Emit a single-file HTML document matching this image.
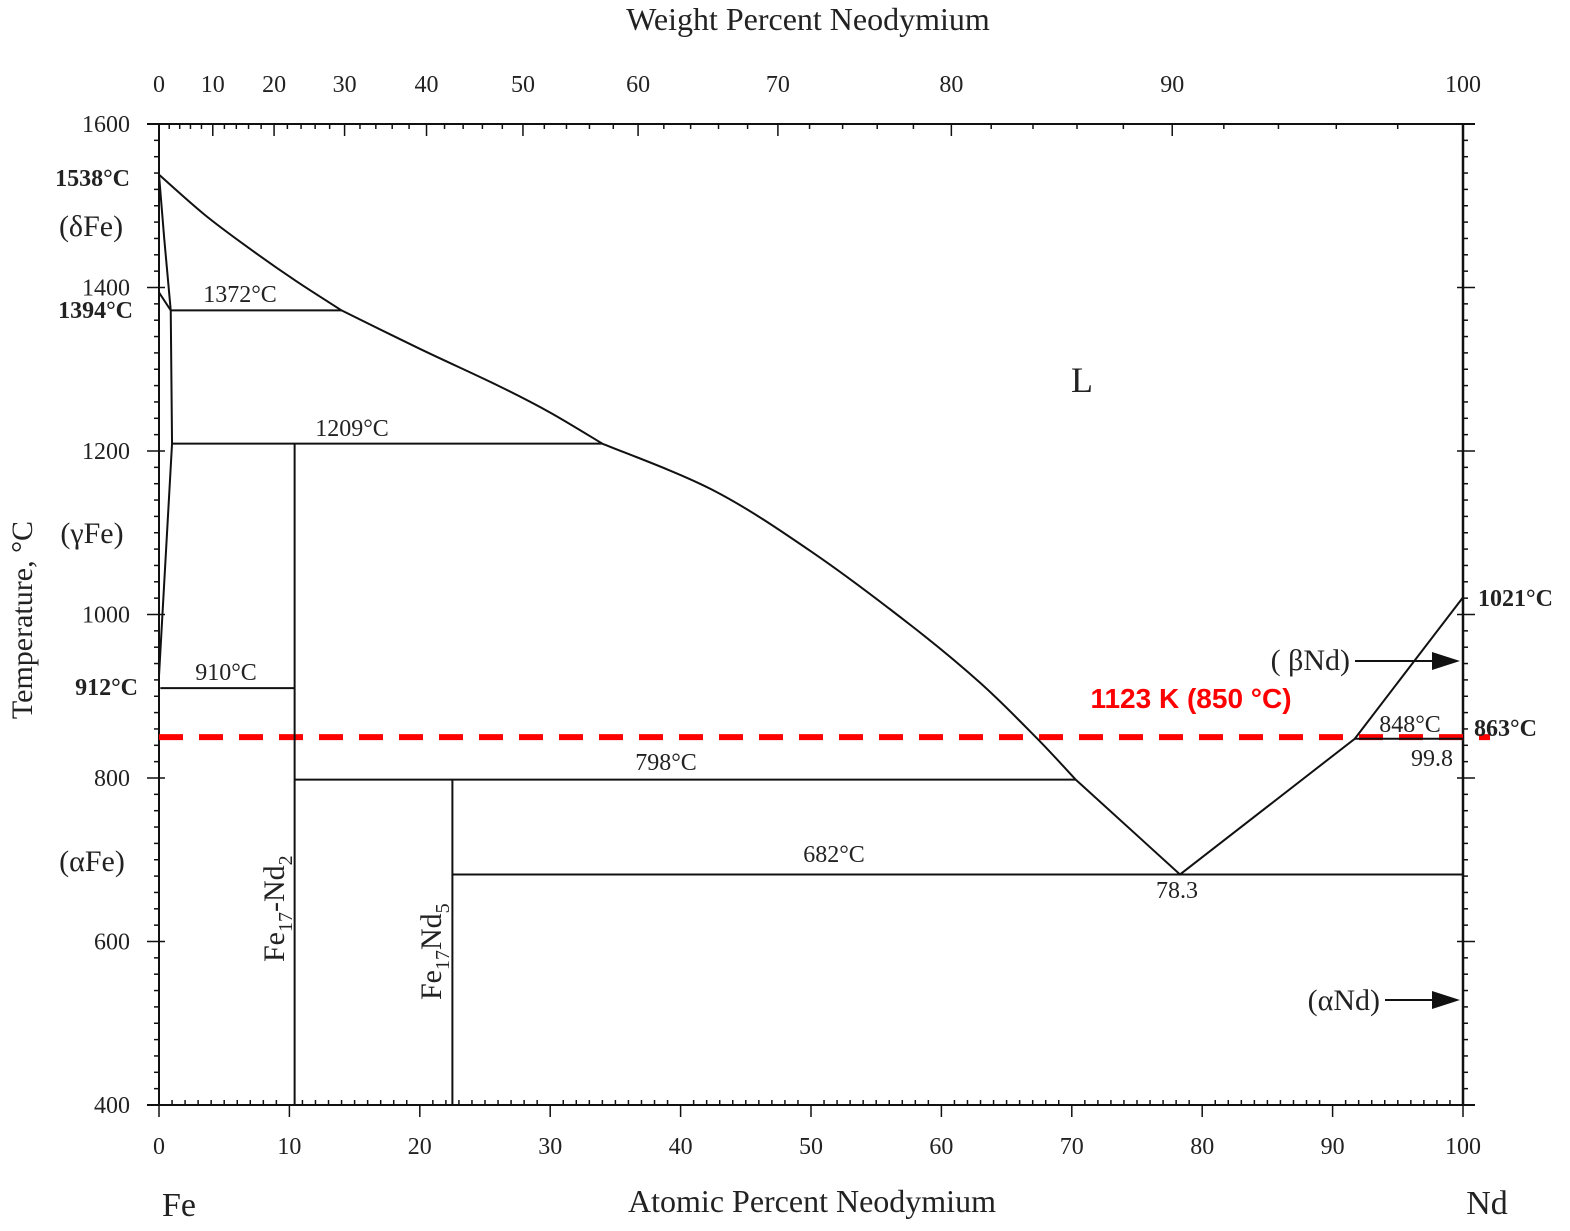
<!DOCTYPE html>
<html><head><meta charset="utf-8"><style>
html,body{margin:0;padding:0;background:#fff;}
svg{display:block;font-family:"Liberation Serif",serif;}
</style></head><body>
<svg id="chart" width="1570" height="1231" viewBox="0 0 1570 1231" xmlns="http://www.w3.org/2000/svg">
<g id="axes"></g>
<g id="lines" fill="none" stroke="#111" stroke-width="2"></g>
<g id="labels" fill="#222" font-size="24"></g>
<g fill="#222" font-size="24" font-family="Liberation Serif, serif">
<text x="808" y="30" font-size="32" text-anchor="middle">Weight Percent Neodymium</text>
<text x="812" y="1212" font-size="32" text-anchor="middle">Atomic Percent Neodymium</text>
<text x="179" y="1216" font-size="34" text-anchor="middle">Fe</text>
<text x="1487" y="1214" font-size="34" text-anchor="middle">Nd</text>
<text transform="translate(32,620) rotate(-90)" font-size="30" text-anchor="middle">Temperature, °C</text>
<text x="130" y="186" font-weight="bold" text-anchor="end">1538°C</text>
<text x="133" y="318" font-weight="bold" text-anchor="end">1394°C</text>
<text x="138" y="695" font-weight="bold" text-anchor="end">912°C</text>
<text x="1478" y="606" font-weight="bold">1021°C</text>
<text x="1474" y="736" font-weight="bold">863°C</text>
<text x="91" y="236" font-size="30" text-anchor="middle">(δFe)</text>
<text x="92" y="543" font-size="30" text-anchor="middle">(γFe)</text>
<text x="92" y="871" font-size="30" text-anchor="middle">(αFe)</text>
<text x="1082" y="392" font-size="36" text-anchor="middle">L</text>
<text x="240" y="302" text-anchor="middle">1372°C</text>
<text x="352" y="436" text-anchor="middle">1209°C</text>
<text x="226" y="680" text-anchor="middle">910°C</text>
<text x="666" y="770" text-anchor="middle">798°C</text>
<text x="834" y="862" text-anchor="middle">682°C</text>
<text x="1177" y="898" text-anchor="middle">78.3</text>
<text x="1410" y="732" text-anchor="middle">848°C</text>
<text x="1432" y="766" text-anchor="middle">99.8</text>
<text transform="translate(284,962) rotate(-90)" font-size="30">Fe<tspan font-size="20" dy="8">17</tspan><tspan dy="-8">-Nd</tspan><tspan font-size="20" dy="8">2</tspan></text>
<text transform="translate(441,1000) rotate(-90)" font-size="30">Fe<tspan font-size="20" dy="8">17</tspan><tspan dy="-8">Nd</tspan><tspan font-size="20" dy="8">5</tspan></text>
<text x="1350" y="670" font-size="30" text-anchor="end">( βNd)</text>
<text x="1380" y="1010" font-size="30" text-anchor="end">(αNd)</text>
<text x="1191" y="708" font-size="28" font-weight="bold" fill="#f00" font-family="Liberation Sans, sans-serif" text-anchor="middle">1123 K (850 °C)</text>
<g><line x1="1355" y1="661" x2="1435" y2="661" stroke="#111" stroke-width="2"/><polygon points="1460,661 1432,652 1432,670" fill="#111"/></g>
<g><line x1="1385" y1="1000" x2="1435" y2="1000" stroke="#111" stroke-width="2"/><polygon points="1460,1000 1432,991 1432,1009" fill="#111"/></g>
</g>
</svg>
<script>
const xTicksAt = [0,10,20,30,40,50,60,70,80,90,100];
const xTicksWt = [0,10,20,30,40,50,60,70,80,90,100];
const yTicks = [400,600,800,1000,1200,1400,1600];
// liquidus segments (at%, °C)
const liqAAt = [0,3.5,7,10.5,14];
const liqAT = [1538,1489,1447,1408,1372];
const liqBAt = [14,20,26,30,34];
const liqBT = [1372,1325,1280,1247,1209];
const liqCAt = [34,42.5,50.2,57.8,63,67.3,70.3];
const liqCT = [1209,1152,1075,985,916,849,798];
const nd1At = [70.3,78.3,91.7,100];
const nd1T = [798,682,848,1021];
const deltaAt = [0,0.4,0.9]; const deltaT=[1538,1460,1372];
const gammaAt = [0.9,1,0]; const gammaT=[1372,1209,925];
const isoLevels = [1372,1209,910,798,682,848];
const isoFrom = [0.9,1,0.1,10.4,22.5,91.7];
const isoTo = [14,34,10.4,70.3,100,100];
const compAt = [10.4,22.5]; const compTop=[1209,798];
const redT = 850;

const X0=159,X1=1463,Y0=124,Y1=1105,TMIN=400,TMAX=1600;
const sx=a=>X0+a/100*(X1-X0);
const sy=t=>Y0+(TMAX-t)/(TMAX-TMIN)*(Y1-Y0);
const wtToAt=w=>{const a=w/144.24,b=(100-w)/55.845;return w>=100?100:100*a/(a+b);};
const NS="http://www.w3.org/2000/svg";
function mk(tag,parent,attrs,text){const e=document.createElementNS(NS,tag);for(const k in attrs)e.setAttribute(k,attrs[k]);if(text!==undefined)e.textContent=text;parent.appendChild(e);return e;}
const ax=document.getElementById('axes'),ln=document.getElementById('lines'),lb=document.getElementById('labels');
let e=mk('line',ax,{x1:X0,y1:Y0,x2:X0,y2:Y1,stroke:'#111','stroke-width':2});


e=mk('line',ax,{x1:X1,y1:Y0,x2:X1,y2:Y1,stroke:'#111','stroke-width':2.5});


e=mk('line',ax,{x1:X0-12,y1:Y1,x2:X1+12,y2:Y1,stroke:'#111','stroke-width':2});


e=mk('line',ax,{x1:X0-12,y1:Y0,x2:X1+12,y2:Y0,stroke:'#111','stroke-width':2});


for(let a=1;a<100;a++){if(a%10===0)continue;mk('line',ax,{x1:sx(a),y1:Y1,x2:sx(a),y2:Y1-5,stroke:'#111','stroke-width':1.5});}
for(let w=2;w<100;w+=2){if(w%10===0)continue;const x=sx(wtToAt(w));mk('line',ax,{x1:x,y1:Y0,x2:x,y2:Y0+5,stroke:'#111','stroke-width':1.5});}
for(let t=420;t<1600;t+=20){if(t%200===0)continue;mk('line',ax,{x1:X0,y1:sy(t),x2:X0-5,y2:sy(t),stroke:'#111','stroke-width':1.5});mk('line',ax,{x1:X1,y1:sy(t),x2:X1+5,y2:sy(t),stroke:'#111','stroke-width':1.5});}
xTicksAt.forEach(a=>{mk('line',ax,{x1:sx(a),y1:Y1,x2:sx(a),y2:Y1+12,stroke:'#111','stroke-width':1.5});
 const t=mk('text',lb,{x:sx(a),y:1154,'text-anchor':'middle'},a);
});
xTicksWt.forEach(w=>{const x=sx(wtToAt(w));mk('line',ax,{x1:x,y1:Y0,x2:x,y2:Y0+12,stroke:'#111','stroke-width':1.5});
 const t=mk('text',lb,{x:x,y:92,'text-anchor':'middle'},w);
});
yTicks.forEach(v=>{mk('line',ax,{x1:X0-12,y1:sy(v),x2:X0+6,y2:sy(v),stroke:'#111','stroke-width':1.5});mk('line',ax,{x1:X1-6,y1:sy(v),x2:X1+12,y2:sy(v),stroke:'#111','stroke-width':1.5});
 const t=mk('text',lb,{x:130,y:sy(v)+8,'text-anchor':'end'},v);
});
function poly(A,T,name){const p=mk('polyline',ln,{points:A.map((a,i)=>sx(a)+','+sy(T[i])).join(' ')});
}
function smooth(A,T,name){let d='M'+sx(A[0])+','+sy(T[0]);const P=A.map((a,i)=>[sx(a),sy(T[i])]);
 for(let i=0;i<P.length-1;i++){const p0=P[Math.max(0,i-1)],p1=P[i],p2=P[i+1],p3=P[Math.min(P.length-1,i+2)];
 d+=` C${p1[0]+(p2[0]-p0[0])/6},${p1[1]+(p2[1]-p0[1])/6} ${p2[0]-(p3[0]-p1[0])/6},${p2[1]-(p3[1]-p1[1])/6} ${p2[0]},${p2[1]}`;}
 const p=mk('path',ln,{d:d});
}
smooth(liqAAt,liqAT,'liquidus-delta');
smooth(liqBAt,liqBT,'liquidus-gamma');
smooth(liqCAt,liqCT,'liquidus-fe17nd2');
poly(nd1At,nd1T,'liquidus-nd-side');
poly(deltaAt,deltaT,'delta-fe-solvus');
poly([0,0.9],[1394,1372],'delta-gamma-boundary');
poly(gammaAt,gammaT,'gamma-fe-solvus');
isoLevels.forEach((t,i)=>{const l=mk('line',ln,{x1:sx(isoFrom[i]),y1:sy(t),x2:sx(isoTo[i]),y2:sy(t)});
});
compAt.forEach((a,i)=>{const l=mk('line',ln,{x1:sx(a),y1:sy(compTop[i]),x2:sx(a),y2:Y1});
});
const rl=mk('line',ax,{x1:X0,y1:sy(redT),x2:1490,y2:sy(redT),stroke:'#f00','stroke-width':6,'stroke-dasharray':'24 16'});


</script>
</body></html>
